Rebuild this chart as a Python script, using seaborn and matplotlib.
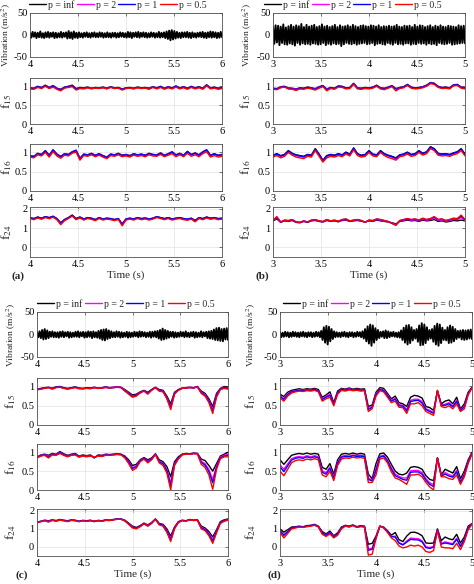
"""
Vibration signal and f15 / f16 / f24 features for four p-norm settings, four cases (a)-(d)
"""

import numpy as np
import matplotlib
matplotlib.use("Agg")
import matplotlib.pyplot as plt
from matplotlib.lines import Line2D
from matplotlib.ticker import FormatStrFormatter
import seaborn as sns

p_labels = ['p = inf', 'p = 2', 'p = 1', 'p = 0.5']
p_colors = ['black', '#ff00ff', '#0000ff', '#ff0000']

# ---------------- case (a) : 4 - 6 s ----------------
vib_a = [5, -6, 7, -4, 6, -7, 5, -5, 8, -6, 4, -7, 6, -5, 7,
         -6, 5, -4, 6, -7, 5, -6, 4, -5, 7, -6, 5, -4, 6, -8,
         9, -7, 6, -9, 8, -6, 5, -7, 6, -5, 4, -6, 5, -4, 6,
         -5, 4, -6, 5, -4, 6, -5, 4, -5, 6, -4, 5, -6, 4, -5,
         6, -5, 4, -6, 5, -4, 5, -6, 4, -5, 6, -4, 5, -5, 4,
         -6, 7, -5, 6, -7, 5, -4, 6, -5, 7, -6, 5, -4, 6, -5,
         5, -6, 4, -5, 6, -4, 5, -6, 4, -5, 7, -6, 5, -5, 6,
         -7, 8, -9, 10, -12, 11, -10, 9, -8, 7, -6, 5, -7, 6, -5,
         6, -5, 7, -6, 5, -7, 6, -5, 4, -6, 5, -4, 6, -5, 7,
         -6, 5, -7, 6, -5, 8, -6, 7, -5, 6, -7, 5, -6, 7, -5]

f15_a_inf = [.96, .95, 1.00, .97, 1.03, .97, 1.02, .95, .92, .98, 1.00, 1.03, .94, .97, .96, .98, .95,
             .97, .96, .98, .95, .99, .96, .97, .93, .96, .97, .95, .98, .96, .97, .95, .99, .96,
             1.00, .95, .99, .96, 1.01, .96, .99, .95, 1.00, .96, .99, .95, 1.04, .96, .98, .95, .97]
f15_a_p2 = [.95, .95, .99, .96, 1.02, .96, 1.01, .94, .91, .97, .99, 1.02, .93, .96, .95, .97, .95,
            .96, .95, .97, .94, .98, .95, .96, .92, .95, .96, .94, .97, .95, .96, .94, .98, .95,
            .99, .94, .98, .95, 1.00, .95, .98, .94, .99, .95, .98, .94, 1.03, .95, .97, .94, .96]
f15_a_p1 = [.95, .94, .99, .96, 1.02, .96, 1.01, .94, .91, .97, .99, 1.02, .93, .96, .95, .97, .94,
            .96, .95, .97, .94, .98, .95, .96, .92, .95, .96, .94, .97, .95, .96, .94, .98, .95,
            .99, .94, .98, .95, 1.00, .95, .98, .94, .99, .95, .98, .94, 1.03, .95, .97, .94, .96]
f15_a_p05 = [.93, .92, .97, .94, 1.00, .94, .98, .92, .88, .95, .97, .99, .90, .94, .93, .96, .93,
             .95, .94, .96, .93, .97, .94, .95, .90, .94, .95, .93, .96, .94, .95, .92, .97, .93,
             .97, .92, .96, .93, .98, .93, .96, .92, .97, .93, .96, .92, 1.01, .93, .95, .92, .94]

f16_a_inf = [.92, .90, .98, .95, 1.05, .93, 1.07, .96, .90, .97, .95, 1.02, 1.06, .85, .96, .94, .98,
             .93, .97, .92, .88, .96, .94, .98, .93, .95, .92, .97, .94, .96, .93, .98, .95, .94,
             .99, .93, .97, 1.02, .94, .98, .93, 1.03, .95, .99, .94, 1.02, 1.07, .93, .97, .93, .95]
f16_a_p2 = [.91, .90, .97, .94, 1.04, .92, 1.06, .95, .89, .96, .94, 1.01, 1.05, .84, .95, .93, .97,
            .92, .96, .91, .87, .95, .93, .97, .92, .94, .91, .96, .93, .95, .92, .97, .94, .93,
            .98, .92, .96, 1.01, .93, .97, .92, 1.02, .94, .98, .93, 1.01, 1.06, .92, .96, .92, .94]
f16_a_p1 = [.91, .89, .97, .94, 1.04, .92, 1.06, .95, .89, .96, .94, 1.01, 1.05, .84, .95, .93, .97,
            .92, .96, .91, .87, .95, .93, .97, .92, .94, .91, .96, .93, .95, .92, .97, .94, .93,
            .98, .92, .96, 1.01, .93, .97, .92, 1.02, .94, .98, .93, 1.01, 1.06, .92, .96, .92, .94]
f16_a_p05 = [.88, .86, .94, .91, 1.00, .88, 1.02, .91, .85, .93, .91, .98, 1.01, .80, .92, .90, .94,
             .89, .93, .88, .84, .92, .90, .94, .89, .91, .88, .93, .90, .92, .89, .94, .91, .90,
             .95, .89, .93, .97, .89, .94, .89, .98, .90, .94, .89, .97, 1.02, .88, .92, .88, .90]

f24_a_inf = [1.55, 1.50, 1.58, 1.52, 1.60, 1.55, 1.62, 1.50, 1.28, 1.45, 1.55, 1.68, 1.50, 1.58, 1.48,
             1.55, 1.52, 1.45, 1.55, 1.48, 1.52, 1.50, 1.45, 1.50, 1.22, 1.48, 1.52, 1.48, 1.55, 1.50,
             1.53, 1.48, 1.52, 1.60, 1.55, 1.50, 1.55, 1.48, 1.52, 1.55, 1.50, 1.47, 1.52, 1.40, 1.55,
             1.50, 1.58, 1.52, 1.55, 1.50, 1.52]
f24_a_p2 = [1.53, 1.48, 1.56, 1.50, 1.58, 1.53, 1.60, 1.48, 1.25, 1.43, 1.53, 1.66, 1.48, 1.56, 1.46,
            1.53, 1.50, 1.43, 1.53, 1.46, 1.50, 1.48, 1.43, 1.48, 1.19, 1.46, 1.50, 1.46, 1.53, 1.48,
            1.51, 1.46, 1.50, 1.58, 1.53, 1.48, 1.53, 1.46, 1.50, 1.53, 1.48, 1.45, 1.50, 1.38, 1.53,
            1.48, 1.56, 1.50, 1.53, 1.48, 1.50]
f24_a_p1 = [1.54, 1.49, 1.57, 1.51, 1.59, 1.54, 1.61, 1.49, 1.26, 1.44, 1.54, 1.67, 1.49, 1.57, 1.47,
            1.54, 1.51, 1.44, 1.54, 1.47, 1.51, 1.49, 1.44, 1.49, 1.20, 1.47, 1.51, 1.47, 1.54, 1.49,
            1.52, 1.47, 1.51, 1.59, 1.54, 1.49, 1.54, 1.47, 1.51, 1.54, 1.49, 1.46, 1.51, 1.39, 1.54,
            1.49, 1.57, 1.51, 1.54, 1.49, 1.51]
f24_a_p05 = [1.50, 1.44, 1.53, 1.46, 1.55, 1.49, 1.57, 1.44, 1.18, 1.39, 1.50, 1.63, 1.44, 1.53, 1.42,
             1.50, 1.46, 1.39, 1.50, 1.42, 1.47, 1.44, 1.39, 1.45, 1.12, 1.42, 1.47, 1.42, 1.50, 1.44,
             1.48, 1.42, 1.47, 1.55, 1.50, 1.44, 1.50, 1.42, 1.47, 1.50, 1.44, 1.41, 1.47, 1.33, 1.50,
             1.44, 1.53, 1.46, 1.50, 1.44, 1.47]

# ---------------- case (b) : 3 - 5 s ----------------
vib_b = [18, -20, 22, -17, 21, -23, 19, -18, 24, -21, 17, -22, 20, -19, 23,
         -21, 19, -24, 22, -18, 20, -22, 25, -19, 18, -21, 23, -20, 19, -22,
         21, -19, 23, -20, 18, -22, 20, -21, 24, -18, 19, -23, 21, -20, 18,
         -22, 20, -19, 23, -21, 18, -20, 22, -25, 19, -21, 20, -18, 22, -20,
         19, -21, 23, -19, 20, -22, 18, -20, 21, -19, 22, -18, 20, -21, 19,
         -20, 22, -18, 21, -23, 19, -20, 22, -19, 18, -21, 20, -22, 19, -18,
         21, -20, 19, -22, 20, -18, 23, -21, 19, -20, 18, -22, 21, -19, 20,
         -19, 21, -22, 18, -20, 23, -21, 19, -18, 22, -20, 21, -19, 18, -22,
         20, -19, 22, -21, 18, -20, 21, -23, 19, -18, 22, -20, 19, -21, 18,
         -20, 21, -18, 20, -22, 19, -21, 18, -20, 22, -19, 20, -18, 21, -19]

f15_b_inf = [.95, .94, .99, 1.00, .96, .95, .93, .96, .95, .98, .96, .94, .99, 1.02, .93, .97, .95,
             1.01, 1.00, .96, .97, 1.08, .96, .95, .97, .96, .98, 1.03, .96, .95, .98, 1.02, .94,
             .97, .99, 1.05, .98, .96, .97, .99, 1.03, 1.10, 1.08, 1.00, .97, .98, .96, 1.04, 1.05, .98, .96]
f15_b_p2 = [.94, .93, .98, .99, .95, .94, .92, .95, .94, .97, .95, .93, .98, 1.01, .92, .96, .94,
            1.00, .99, .95, .96, 1.07, .95, .94, .96, .95, .97, 1.02, .95, .94, .97, 1.01, .93,
            .96, .98, 1.04, .97, .95, .96, .98, 1.02, 1.09, 1.07, .99, .96, .97, .95, 1.03, 1.04, .97, .95]
f15_b_p1 = [.94, .93, .97, .99, .94, .93, .91, .95, .94, .97, .95, .92, .97, 1.01, .91, .96, .94,
            1.00, .99, .95, .96, 1.07, .95, .94, .96, .95, .97, 1.02, .95, .93, .97, 1.01, .92,
            .96, .98, 1.04, .97, .95, .96, .98, 1.02, 1.09, 1.07, .99, .96, .97, .95, 1.03, 1.04, .97, .95]
f15_b_p05 = [.92, .91, .96, .98, .93, .92, .89, .93, .92, .95, .93, .90, .95, .99, .88, .94, .92,
             .98, .97, .93, .94, 1.05, .93, .92, .94, .93, .95, 1.00, .93, .91, .95, .99, .88,
             .94, .96, 1.02, .95, .93, .94, .96, 1.00, 1.07, 1.05, .97, .94, .95, .93, 1.01, 1.02, .95, .93]

f16_b_inf = [.93, .97, .92, .95, 1.05, .98, .94, .92, .90, .95, .93, 1.10, .96, .80, .92, .95, .93,
             .97, .94, 1.01, .96, 1.12, .97, .93, .95, 1.05, .96, .94, 1.05, .97, .93, .90, .86,
             .94, .96, 1.01, .95, .97, 1.05, .98, 1.02, 1.15, 1.10, .98, .96, .97, .95, .99, 1.02, 1.10, .96]
f16_b_p2 = [.91, .95, .90, .93, 1.03, .96, .92, .90, .88, .93, .91, 1.08, .94, .78, .90, .93, .91,
            .95, .92, .99, .94, 1.10, .95, .91, .93, 1.03, .94, .92, 1.03, .95, .91, .88, .84,
            .92, .94, .99, .93, .95, 1.03, .96, 1.00, 1.13, 1.08, .96, .94, .95, .93, .97, 1.00, 1.08, .94]
f16_b_p1 = [.92, .96, .91, .94, 1.04, .97, .93, .91, .89, .94, .92, 1.09, .95, .79, .91, .94, .92,
            .96, .93, 1.00, .95, 1.11, .96, .92, .94, 1.04, .95, .93, 1.04, .96, .92, .89, .85,
            .93, .95, 1.00, .94, .96, 1.04, .97, 1.01, 1.14, 1.09, .97, .95, .96, .94, .98, 1.01, 1.09, .95]
f16_b_p05 = [.88, .92, .86, .90, 1.00, .93, .88, .86, .84, .90, .88, 1.05, .90, .75, .86, .90, .88,
             .92, .89, .96, .91, 1.07, .92, .88, .90, 1.00, .91, .89, 1.00, .92, .87, .84, .80,
             .89, .91, .96, .90, .92, 1.00, .93, .97, 1.10, 1.05, .93, .91, .92, .90, .94, .97, 1.05, .91]

f24_b_inf = [1.38, 1.48, 1.30, 1.38, 1.35, 1.40, 1.30, 1.28, 1.35, 1.30, 1.38, 1.40, 1.35, 1.32, 1.40,
             1.35, 1.38, 1.33, 1.40, 1.42, 1.35, 1.38, 1.40, 1.36, 1.32, 1.38, 1.35, 1.42, 1.38, 1.35,
             1.32, 1.28, 1.22, 1.35, 1.38, 1.42, 1.38, 1.40, 1.35, 1.42, 1.38, 1.40, 1.45, 1.35, 1.38,
             1.32, 1.35, 1.40, 1.38, 1.42, 1.38]
f24_b_p2 = [1.40, 1.54, 1.31, 1.40, 1.37, 1.42, 1.31, 1.29, 1.36, 1.31, 1.40, 1.42, 1.36, 1.33, 1.42,
            1.36, 1.40, 1.34, 1.42, 1.45, 1.36, 1.40, 1.42, 1.38, 1.31, 1.40, 1.37, 1.45, 1.41, 1.37,
            1.33, 1.26, 1.18, 1.37, 1.41, 1.46, 1.41, 1.44, 1.38, 1.47, 1.41, 1.45, 1.52, 1.40, 1.43,
            1.36, 1.40, 1.46, 1.44, 1.55, 1.41]
f24_b_p1 = [1.41, 1.57, 1.32, 1.41, 1.38, 1.44, 1.32, 1.30, 1.37, 1.32, 1.41, 1.44, 1.37, 1.34, 1.44,
            1.37, 1.41, 1.35, 1.44, 1.47, 1.37, 1.41, 1.44, 1.39, 1.31, 1.41, 1.39, 1.47, 1.44, 1.39,
            1.34, 1.25, 1.16, 1.39, 1.44, 1.48, 1.44, 1.47, 1.41, 1.50, 1.44, 1.48, 1.58, 1.44, 1.47,
            1.39, 1.44, 1.50, 1.48, 1.62, 1.44]
f24_b_p05 = [1.42, 1.60, 1.32, 1.42, 1.40, 1.45, 1.33, 1.30, 1.38, 1.32, 1.42, 1.45, 1.38, 1.35, 1.45,
             1.38, 1.42, 1.36, 1.45, 1.48, 1.38, 1.42, 1.45, 1.40, 1.30, 1.42, 1.40, 1.48, 1.45, 1.40,
             1.35, 1.25, 1.15, 1.40, 1.45, 1.50, 1.45, 1.48, 1.42, 1.52, 1.45, 1.50, 1.60, 1.45, 1.48,
             1.40, 1.45, 1.52, 1.50, 1.68, 1.45]

# ---------------- case (c) : 4 - 6 s ----------------
vib_c = [5, -6, 7, -8, 10, -11, 12, -10, 9, -8, 6, -5, 7, -6, 5,
         -6, 5, -7, 6, -5, 7, -6, 5, -4, 6, -7, 5, -6, 4, -5,
         6, -5, 7, -6, 5, -4, 6, -7, 5, -6, 7, -5, 6, -8, 7,
         -6, 5, -7, 8, -9, 10, -12, 11, -13, 12, -10, 9, -8, 7, -6,
         5, -6, 7, -5, 6, -7, 5, -6, 4, -5, 6, -7, 5, -6, 4,
         -5, 6, -4, 5, -6, 7, -5, 6, -4, 5, -6, 4, -5, 6, -7,
         6, -5, 7, -6, 8, -9, 10, -12, 13, -11, 10, -9, 8, -7, 6,
         -5, 6, -7, 5, -6, 4, -5, 6, -4, 5, -6, 7, -5, 4, -6,
         5, -4, 6, -7, 5, -6, 4, -5, 7, -6, 5, -4, 6, -8, 7,
         -9, 8, -10, 11, -12, 14, -13, 15, -14, 12, -15, 13, -11, 14, -12]

f15_c_inf = [.93, .95, .97, .98, .96, .99, 1.00, .97, .95, .97, .99, .96, .95, .97, .96, .98, .96,
             .97, .99, .97, .98, .99, .98, .92, .85, .78, .80, .86, .90, .85, .92, .98, .92, .90,
             .75, .55, .85, .92, .96, .97, .98, .97, 1.00, .88, .82, .68, .48, .82, .95, 1.00, .98]
f15_c_p2 = [.92, .94, .96, .98, .95, .98, .99, .96, .94, .96, .98, .95, .95, .96, .95, .98, .96,
            .97, .98, .97, .98, .99, .98, .90, .83, .75, .78, .85, .89, .83, .91, .98, .90, .88,
            .72, .48, .83, .91, .96, .97, .98, .97, 1.00, .85, .79, .64, .40, .78, .94, .98, .96]
f15_c_p1 = [.92, .94, .96, .97, .94, .98, .99, .96, .94, .96, .98, .95, .94, .96, .95, .97, .95,
            .96, .98, .96, .97, .98, .97, .89, .82, .74, .77, .84, .89, .82, .91, .97, .89, .87,
            .70, .45, .82, .91, .95, .96, .97, .96, .99, .84, .77, .62, .36, .76, .93, .97, .95]
f15_c_p05 = [.91, .93, .95, .97, .93, .97, .98, .95, .93, .95, .97, .94, .94, .95, .94, .97, .95,
             .96, .97, .96, .97, .98, .97, .88, .80, .72, .75, .83, .88, .80, .90, .97, .88, .86,
             .68, .40, .80, .90, .95, .96, .97, .96, .99, .82, .75, .58, .30, .72, .92, .95, .93]

f16_c_inf = [.88, .93, .95, .92, .97, .95, 1.02, .96, .92, .95, .97, .90, .93, .91, .93, .85, .93,
             .92, .95, .94, .95, .96, .95, .90, .80, .65, .68, .80, .86, .80, .85, .96, .80, .75,
             .62, .35, .75, .88, .95, .97, .96, .98, .97, .82, .78, .65, .50, .70, .90, .95, 1.00]
f16_c_p2 = [.87, .92, .94, .89, .95, .94, 1.00, .94, .90, .94, .95, .89, .92, .90, .92, .86, .92,
            .91, .94, .93, .94, .95, .94, .88, .76, .59, .64, .78, .84, .76, .83, .95, .76, .71,
            .54, .19, .71, .85, .94, .96, .96, .97, .97, .76, .70, .54, .28, .63, .87, .92, .95]
f16_c_p1 = [.86, .91, .93, .87, .94, .93, .99, .93, .89, .93, .94, .88, .91, .89, .91, .86, .91,
            .90, .93, .93, .94, .95, .94, .87, .74, .57, .62, .77, .83, .75, .82, .95, .75, .69,
            .51, .12, .69, .84, .94, .96, .95, .97, .96, .73, .66, .49, .19, .60, .85, .90, .92]
f16_c_p05 = [.85, .90, .92, .85, .93, .92, .97, .92, .88, .92, .93, .87, .90, .88, .90, .87, .90,
             .89, .92, .92, .93, .94, .93, .85, .70, .52, .58, .75, .82, .72, .80, .94, .72, .65,
             .45, .00, .65, .82, .93, .95, .95, .96, .96, .68, .60, .40, .02, .55, .83, .88, .88]

f24_c_inf = [1.38, 1.42, 1.48, 1.45, 1.50, 1.46, 1.52, 1.48, 1.45, 1.50, 1.48, 1.42, 1.47, 1.45, 1.48,
             1.40, 1.47, 1.45, 1.50, 1.48, 1.52, 1.55, 1.55, 1.48, 1.32, 1.15, 1.08, 1.18, 1.32, 1.22,
             1.35, 1.55, 1.30, 1.25, 1.00, 0.60, 1.10, 1.40, 1.48, 1.45, 1.52, 1.48, 1.50, 1.15, 1.05,
             0.85, 0.55, 0.95, 1.40, 1.50, 1.55]
f24_c_p2 = [1.37, 1.41, 1.47, 1.42, 1.49, 1.45, 1.50, 1.47, 1.43, 1.49, 1.47, 1.41, 1.46, 1.44, 1.47,
            1.41, 1.46, 1.44, 1.49, 1.47, 1.51, 1.54, 1.54, 1.46, 1.29, 1.11, 1.04, 1.15, 1.30, 1.19,
            1.33, 1.54, 1.26, 1.21, 0.91, 0.47, 1.06, 1.38, 1.47, 1.44, 1.51, 1.47, 1.49, 1.08, 0.98,
            0.75, 0.39, 0.87, 1.36, 1.46, 1.52]
f24_c_p1 = [1.36, 1.41, 1.46, 1.40, 1.48, 1.44, 1.49, 1.46, 1.42, 1.48, 1.46, 1.41, 1.46, 1.43, 1.46,
            1.42, 1.46, 1.43, 1.48, 1.47, 1.51, 1.54, 1.54, 1.45, 1.27, 1.09, 1.03, 1.14, 1.29, 1.17,
            1.32, 1.54, 1.25, 1.19, 0.87, 0.40, 1.04, 1.37, 1.46, 1.44, 1.51, 1.47, 1.49, 1.05, 0.95,
            0.70, 0.32, 0.84, 1.34, 1.45, 1.50]
f24_c_p05 = [1.35, 1.40, 1.45, 1.38, 1.47, 1.43, 1.48, 1.45, 1.40, 1.47, 1.45, 1.40, 1.45, 1.42, 1.45,
             1.43, 1.45, 1.42, 1.47, 1.46, 1.50, 1.53, 1.53, 1.44, 1.25, 1.05, 1.00, 1.12, 1.28, 1.15,
             1.30, 1.53, 1.22, 1.15, 0.80, 0.30, 1.00, 1.35, 1.45, 1.43, 1.50, 1.46, 1.48, 1.00, 0.90,
             0.62, 0.20, 0.78, 1.30, 1.42, 1.48]

# ---------------- case (d) : 3 - 5 s ----------------
vib_d = [5, -6, 4, -5, 6, -4, 5, -6, 4, -5, 6, -4, 5, -5, 4,
         -6, 5, -4, 6, -5, 4, -6, 5, -4, 5, -6, 4, -5, 6, -4,
         5, -6, 8, -12, 16, -18, 19, -22, 17, -15, 12, -10, 7, -6, 5,
         -5, 4, -6, 5, -4, 6, -5, 4, -6, 5, -4, 5, -6, 4, -5,
         6, -4, 5, -6, 7, -9, 12, -15, 18, -20, 22, -25, 20, -18, 14,
         -12, 10, -8, 6, -5, 7, -8, 9, -8, 7, -6, 5, -4, 6, -5,
         4, -6, 5, -7, 9, -12, 15, -18, 20, -22, 21, -19, 16, -13, 10,
         -9, 12, -16, 20, -24, 25, -23, 22, -19, 16, -12, 10, -9, 12, -16,
         19, -22, 24, -25, 22, -19, 15, -12, 10, -13, 16, -19, 20, -18, 17,
         -15, 12, -10, 8, -7, 9, -11, 10, -12, 9, -11, 10, -9, 11, -10]

f15_d_inf = [.80, .74, .85, .90, .92, .94, .92, .94, .93, .95, .92, .72, .78, .86, .58, .88, .95,
             .93, .96, .93, .95, .93, .94, .48, .52, .85, .97, .95, .82, .68, .75, .58, .55, .48,
             .72, .77, .75, .70, .48, .45, .38, .88, .55, .62, .65, .55, .72, .42, .55, .85, .98]
f15_d_p2 = [.76, .69, .81, .87, .89, .91, .90, .92, .91, .93, .89, .68, .74, .80, .54, .84, .93,
            .91, .94, .91, .93, .91, .92, .42, .48, .81, .93, .91, .78, .64, .69, .53, .51, .40,
            .64, .67, .67, .61, .42, .38, .32, .89, .52, .54, .58, .49, .64, .39, .49, .82, .97]
f15_d_p1 = [.74, .66, .79, .86, .88, .90, .89, .91, .90, .92, .88, .66, .72, .77, .53, .83, .92,
            .90, .93, .90, .92, .90, .91, .40, .46, .79, .92, .89, .76, .62, .67, .50, .49, .36,
            .61, .63, .64, .57, .40, .35, .30, .89, .51, .51, .55, .47, .61, .38, .47, .81, .97]
f15_d_p05 = [.70, .62, .75, .83, .86, .88, .87, .89, .88, .90, .86, .62, .68, .72, .50, .80, .90,
             .88, .91, .89, .90, .88, .89, .35, .42, .75, .89, .86, .72, .58, .62, .46, .45, .30,
             .55, .55, .58, .50, .35, .30, .25, .90, .48, .45, .50, .42, .55, .35, .42, .78, .96]

f16_d_inf = [.80, .68, .80, .92, .95, .97, .95, .98, .95, .97, .95, .60, .55, .70, .42, .80, .95,
             .97, .95, .98, .95, .97, .95, .42, .30, .70, .96, .98, .87, .68, .50, .42, .40, .45,
             .60, .62, .60, .55, .38, .28, .25, .85, .40, .55, .50, .45, .62, .30, .50, .80, 1.00]
f16_d_p2 = [.67, .55, .69, .83, .87, .89, .87, .91, .88, .91, .88, .51, .46, .61, .34, .73, .89,
            .92, .90, .93, .91, .92, .90, .32, .26, .57, .90, .92, .80, .59, .42, .36, .32, .32,
            .51, .52, .52, .46, .30, .19, .14, .85, .38, .46, .41, .37, .52, .23, .43, .76, .98]
f16_d_p1 = [.61, .49, .64, .79, .84, .86, .84, .88, .85, .88, .85, .47, .42, .57, .31, .70, .87,
            .89, .88, .91, .89, .90, .88, .28, .24, .51, .87, .90, .77, .55, .38, .33, .28, .26,
            .47, .48, .48, .42, .26, .15, .09, .85, .37, .42, .37, .34, .48, .20, .40, .74, .97]
f16_d_p05 = [.50, .38, .55, .72, .78, .80, .78, .82, .80, .83, .80, .40, .35, .50, .25, .65, .82,
             .85, .84, .87, .85, .86, .84, .20, .20, .40, .82, .85, .72, .48, .32, .28, .22, .15,
             .40, .40, .42, .35, .20, .08, .00, .85, .35, .35, .30, .28, .40, .15, .35, .70, .95]

f24_d_inf = [1.00, .82, .95, 1.10, 1.12, 1.15, 1.12, 1.18, 1.20, 1.25, 1.15, .85, .72, .88, .62, .78,
             1.10, 1.20, 1.15, 1.22, 1.12, 1.18, 1.15, .15, .20, .60, 1.15, 1.10, .90, .65, .80, .40,
             .30, .60, .80, .82, .75, .62, .22, .20, .22, 1.00, .35, .55, .45, .40, .70, .22, .55,
             1.15, 1.30]
f24_d_p2 = [.91, .68, .86, 1.06, 1.09, 1.13, 1.10, 1.15, 1.18, 1.23, 1.13, .78, .66, .81, .57, .72,
            1.06, 1.18, 1.13, 1.20, 1.10, 1.15, 1.13, -.12, -.07, .53, 1.15, 1.08, .86, .58, .60, .24,
            .14, .33, .49, .47, .46, .34, .01, -.03, .03, .96, .19, .28, .23, .18, .48, .05, .44,
            1.06, 1.28]
f24_d_p1 = [.89, .64, .84, 1.05, 1.08, 1.12, 1.10, 1.15, 1.17, 1.22, 1.12, .77, .64, .79, .55, .71,
            1.05, 1.17, 1.12, 1.20, 1.10, 1.15, 1.12, -.18, -.13, .52, 1.15, 1.07, .85, .57, .55, .21,
            .11, .27, .42, .40, .39, .28, -.04, -.08, -.01, .95, .16, .22, .18, .13, .43, .02, .41,
            1.04, 1.27]
f24_d_p05 = [.80, .50, .75, 1.00, 1.05, 1.10, 1.08, 1.12, 1.15, 1.20, 1.10, .70, .58, .72, .50, .65,
             1.00, 1.15, 1.10, 1.18, 1.08, 1.12, 1.10, -.45, -.40, .45, 1.15, 1.05, .80, .50, .35, .05,
             -.05, .00, .10, .05, .10, .00, -.25, -.30, -.20, .90, .00, -.05, -.05, -.10, .20, -.15, .30,
             .95, 1.25]

# layout in pixels of the 474 x 584 canvas
W, H = 474, 584
panels = [
    dict(t=(4, 6), vib=vib_a,
         feats=[(f15_a_inf, f15_a_p2, f15_a_p1, f15_a_p05),
                (f16_a_inf, f16_a_p2, f16_a_p1, f16_a_p05),
                (f24_a_inf, f24_a_p2, f24_a_p1, f24_a_p05)],
         left=30, right=222, tops=[13, 78, 144, 207], bots=[57, 124, 191, 257],
         leg=(29, 5), tag='(a)', tag_xy=(12, 276), vlab=13, flab=14),
    dict(t=(3, 5), vib=vib_b,
         feats=[(f15_b_inf, f15_b_p2, f15_b_p1, f15_b_p05),
                (f16_b_inf, f16_b_p2, f16_b_p1, f16_b_p05),
                (f24_b_inf, f24_b_p2, f24_b_p1, f24_b_p05)],
         left=273, right=465, tops=[13, 78, 144, 207], bots=[57, 124, 191, 257],
         leg=(264, 5), tag='(b)', tag_xy=(256, 276), vlab=254, flab=253),
    dict(t=(4, 6), vib=vib_c,
         feats=[(f15_c_inf, f15_c_p2, f15_c_p1, f15_c_p05),
                (f16_c_inf, f16_c_p2, f16_c_p1, f16_c_p05),
                (f24_c_inf, f24_c_p2, f24_c_p1, f24_c_p05)],
         left=37, right=228, tops=[312, 378, 444, 509], bots=[357, 425, 490, 556],
         leg=(37, 304), tag='(c)', tag_xy=(15, 575), vlab=18, flab=18),
    dict(t=(3, 5), vib=vib_d,
         feats=[(f15_d_inf, f15_d_p2, f15_d_p1, f15_d_p05),
                (f16_d_inf, f16_d_p2, f16_d_p1, f16_d_p05),
                (f24_d_inf, f24_d_p2, f24_d_p1, f24_d_p05)],
         left=280, right=472, tops=[312, 378, 444, 509], bots=[357, 425, 490, 556],
         leg=(283, 304), tag='(d)', tag_xy=(268, 575), vlab=258, flab=258),
]

feat_names = ['f$_{15}$', 'f$_{16}$', 'f$_{24}$']
feat_ylims = [(0, 1.22), (0, 1.22), (-0.5, 2.1)]
feat_yticks = [[0, 0.5, 1], [0, 0.5, 1], [0, 1, 2]]

sns.set_style("white")
plt.rcParams['font.family'] = ['Liberation Serif', 'DejaVu Serif']
plt.rcParams['mathtext.fontset'] = 'stix'
plt.rcParams['axes.unicode_minus'] = False

fig = plt.figure(figsize=(W / 100, H / 100), dpi=100)


def add_px_axes(left, right, top, bottom):
    return fig.add_axes([left / W, 1 - bottom / H, (right - left) / W, (bottom - top) / H])


def style_axes(ax, xlim, ylim, yticks, label_x_px, left, right):
    ax.set_xlim(xlim)
    ax.set_ylim(ylim)
    ax.set_xticks(np.arange(xlim[0], xlim[1] + 0.01, 0.5))
    ax.set_yticks(yticks)
    ax.xaxis.set_major_formatter(FormatStrFormatter('%g'))
    ax.yaxis.set_major_formatter(FormatStrFormatter('%g'))
    ax.tick_params(direction='in', length=2.5, width=0.5, color='#404040', labelcolor='black',
                   labelsize=7.5, pad=2, top=True, right=True)
    ax.grid(True, color='#e2e2e2', linewidth=0.5)
    ax.set_axisbelow(True)
    for s in ax.spines.values():
        s.set_linewidth(0.6)
        s.set_color('#505050')
    ax.yaxis.set_label_coords((label_x_px - left) / (right - left), 0.5)


for pan in panels:
    t0, t1 = pan['t']

    ax = add_px_axes(pan['left'], pan['right'], pan['tops'][0], pan['bots'][0])
    t_vib = np.linspace(t0, t1, len(pan['vib']))
    sns.lineplot(x=t_vib, y=np.array(pan['vib']), ax=ax, color='black', linewidth=1.4,
                 estimator=None, sort=False, legend=False)
    style_axes(ax, (t0, t1), (-50, 50), [-50, 0, 50], pan['vlab'], pan['left'], pan['right'])
    ax.set_ylabel('Vibration (m/s$^2$)', fontsize=6.8)
    handles = [Line2D([], [], color=c, linewidth=1.0) for c in p_colors]
    lx, ly = pan['leg']
    ax.legend(handles, p_labels, loc='center left', bbox_to_anchor=(lx / W, 1 - ly / H),
              bbox_transform=fig.transFigure, ncol=4, frameon=False, fontsize=7,
              handlelength=1.75, handletextpad=0.2, columnspacing=0.25,
              borderpad=0, borderaxespad=0)

    for j, series in enumerate(pan['feats']):
        ax = add_px_axes(pan['left'], pan['right'], pan['tops'][j + 1], pan['bots'][j + 1])
        for vals, c in zip(series, p_colors):
            tt = np.linspace(t0, t1, len(vals))
            sns.lineplot(x=tt, y=np.array(vals), ax=ax, color=c, linewidth=1.0,
                         estimator=None, sort=False, legend=False)
        style_axes(ax, (t0, t1), feat_ylims[j], feat_yticks[j], pan['flab'], pan['left'], pan['right'])
        ax.set_ylabel(feat_names[j], fontsize=9.5)
        if j == 2:
            ax.set_xlabel('Time (s)', fontsize=8, labelpad=1)
        else:
            ax.set_xlabel('')

    fig.text(pan['tag_xy'][0] / W, 1 - pan['tag_xy'][1] / H, pan['tag'], fontsize=8,
             fontweight='bold', ha='left', va='center')

fig.savefig('out.png', dpi=100)
